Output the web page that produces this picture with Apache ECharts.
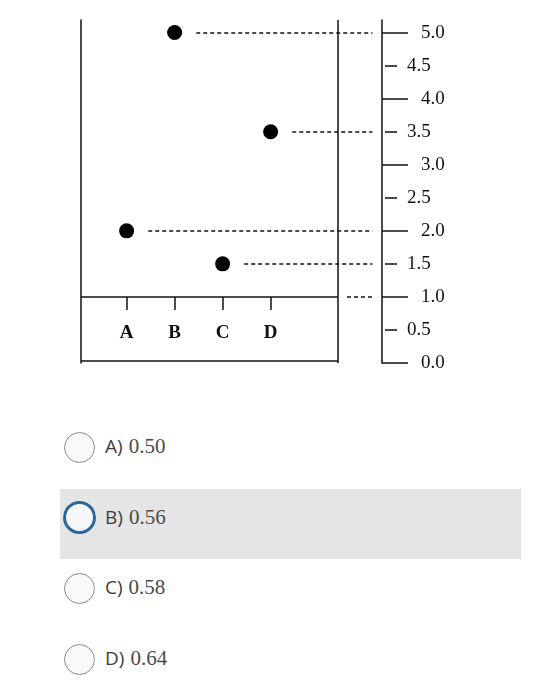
<!DOCTYPE html>
<html>
<head>
<meta charset="utf-8">
<script src="https://cdn.jsdelivr.net/npm/echarts@6/dist/echarts.min.js"></script>
<style>
  body { margin: 0; background: #fff; width: 554px; height: 700px; position: relative; overflow: hidden; }
  #chart { position: absolute; left: 0; top: 0; width: 554px; height: 380px; }
  .hl { position: absolute; left: 60px; top: 489px; width: 461px; height: 70px; background: #e5e5e5; }
  .opt { position: absolute; left: 64px; height: 36px; display: flex; align-items: center; }
  .radio { box-sizing: border-box; width: 31px; height: 31px; border-radius: 50%;
           border: 1.5px solid #8c8c8c; background: #f8f9fb; margin-right: 10px; flex: none; }
  .radio.sel { width: 33px; height: 33px; border: 3px solid #2b679b; background: #f5f7fa; margin-left: -1px; margin-right: 9px; }
  .txt { line-height: 24px; white-space: nowrap; }
  .key { font-family: "Open Sans", sans-serif; font-size: 19px; color: #3d3d3d; }
  .val { font-family: "Liberation Serif", serif; font-size: 21px; color: #4a4a4a; margin-left: 6px; }
</style>
</head>
<body>
<div id="chart"></div>
<div class="hl"></div>
<div id="options"></div>
<script>
var chart = echarts.init(document.getElementById('chart'));

// plotted points
const categories = ['A', 'B', 'C', 'D'];
const values = [2.0, 5.0, 1.5, 3.5];

// right-hand scale
const majorTicks = [0, 1, 2, 3, 4, 5];
const minorTicks = [0.5, 1.5, 2.5, 3.5, 4.5];
const baseLevel = 1.0;

// answer choices
const choiceKeys = ['A)', 'B)', 'C)', 'D)'];
const choiceValues = ['0.50', '0.56', '0.58', '0.64'];
const selectedChoice = 1;

const xMin = 0.05, xMax = 6.32, boxRight = 5.4, leaderEnd = 6.12;
const yMax = 5.19;

var solid = { type: 'solid', color: '#111', width: 1.5 };
var dashed = { type: [4, 3], color: '#111', width: 1.5 };

var lines = [];
// box frame and the base line at 1.0
lines.push([{ coord: [xMin, baseLevel], lineStyle: solid }, { coord: [boxRight, baseLevel] }]);
lines.push([{ coord: [xMin, 0.03], lineStyle: solid }, { coord: [boxRight, 0.03] }]);
lines.push([{ coord: [boxRight, 0], lineStyle: solid }, { coord: [boxRight, yMax] }]);
// dotted leaders from each point to the scale
values.forEach(function (v, i) {
  lines.push([{ coord: [i + 1 + 0.45, v], lineStyle: dashed }, { coord: [leaderEnd, v] }]);
});
lines.push([{ coord: [5.59, baseLevel], lineStyle: dashed }, { coord: [leaderEnd, baseLevel] }]);

var option = {
  animation: false,
  grid: { left: 81, top: 20, right: 172, bottom: 17 },
  xAxis: {
    type: 'value',
    min: xMin,
    max: xMax,
    position: 'bottom',
    offset: -66,
    axisLine: { show: false },
    splitLine: { show: false },
    axisTick: { customValues: [1, 2, 3, 4], length: 13, lineStyle: { color: '#111', width: 1.5 } },
    axisLabel: {
      customValues: [1, 2, 3, 4],
      margin: 27,
      fontFamily: 'Liberation Serif',
      fontWeight: 'bold',
      fontSize: 19,
      color: '#111',
      formatter: function (v) { return categories[Math.round(v) - 1]; }
    }
  },
  yAxis: [
    {
      type: 'value',
      position: 'right',
      min: 0,
      max: yMax,
      splitLine: { show: false },
      axisLine: { show: true, lineStyle: { color: '#111', width: 1.5 } },
      axisTick: { customValues: majorTicks, length: 26, lineStyle: { color: '#111', width: 1.5 } },
      axisLabel: {
        customValues: majorTicks,
        margin: 39,
        fontFamily: 'Liberation Serif',
        fontSize: 19,
        color: '#111',
        formatter: function (v) { return v.toFixed(1); }
      }
    },
    {
      type: 'value',
      position: 'right',
      offset: 3,
      min: 0,
      max: yMax,
      splitLine: { show: false },
      axisLine: { show: false },
      axisTick: { show: true, customValues: minorTicks, length: 12, lineStyle: { color: '#111', width: 1.5 } },
      axisLabel: {
        customValues: minorTicks,
        margin: 22,
        fontFamily: 'Liberation Serif',
        fontSize: 19,
        color: '#111',
        formatter: function (v) { return v.toFixed(1); }
      }
    },
    {
      type: 'value',
      position: 'left',
      min: 0,
      max: yMax,
      splitLine: { show: false },
      axisLine: { show: true, lineStyle: { color: '#111', width: 1.5 } },
      axisTick: { show: false },
      axisLabel: { show: false }
    }
  ],
  series: [{
    type: 'scatter',
    xAxisIndex: 0,
    yAxisIndex: 0,
    symbolSize: 15,
    itemStyle: { color: '#000', opacity: 1 },
    data: values.map(function (v, i) { return [i + 1, v]; }),
    markLine: {
      silent: true,
      symbol: 'none',
      label: { show: false },
      data: lines
    }
  }]
};

chart.setOption(option);

// answer list below the figure
var box = document.getElementById('options');
choiceKeys.forEach(function (k, i) {
  var row = document.createElement('div');
  row.className = 'opt';
  row.style.top = (447 + i * 70.7 - 18) + 'px';
  var r = document.createElement('div');
  r.className = 'radio' + (i === selectedChoice ? ' sel' : '');
  var t = document.createElement('div');
  t.className = 'txt';
  var a = document.createElement('span');
  a.className = 'key';
  a.textContent = k;
  var b = document.createElement('span');
  b.className = 'val';
  b.textContent = choiceValues[i];
  t.appendChild(a);
  t.appendChild(b);
  row.appendChild(r);
  row.appendChild(t);
  box.appendChild(row);
});
</script>
</body>
</html>
